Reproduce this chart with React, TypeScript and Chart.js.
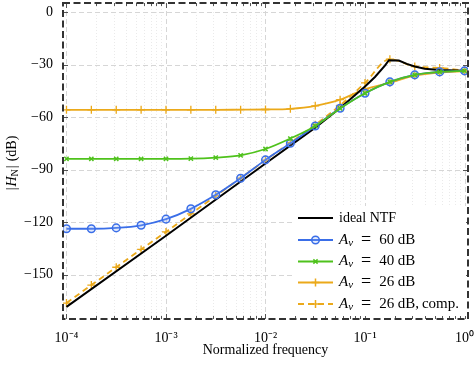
import React, { useEffect, useRef } from 'react';
import { Chart, registerables } from 'chart.js';

Chart.register(...registerables);

// ---- data ----
const freq = [1e-4, 1.778e-4, 3.162e-4, 5.623e-4, 1e-3, 1.778e-3, 3.162e-3, 5.623e-3, 1e-2, 1.778e-2, 3.162e-2, 5.623e-2, 1e-1, 0.1778, 0.3162, 0.5623, 1];
const av60 = [-123.8, -123.8, -123.3, -121.8, -118.3, -112.4, -104.4, -94.9, -84.4, -74.9, -65.0, -54.9, -46.3, -39.8, -35.8, -34.1, -33.5];
const av40 = [-83.8, -83.8, -83.8, -83.8, -83.8, -83.7, -83.1, -81.8, -78.2, -72.2, -65.0, -55.0, -46.3, -39.8, -35.8, -34.1, -33.5];
const av26 = [-55.8, -55.8, -55.8, -55.8, -55.8, -55.8, -55.8, -55.7, -55.6, -55.2, -53.5, -50.0, -44.0, -40.3, -36.2, -34.4, -33.7];
const av26comp = [-166.3, -156.0, -145.8, -135.6, -125.6, -115.3, -105.0, -94.8, -84.6, -74.5, -64.3, -53.2, -40.4, -26.8, -31.0, -31.8, -33.3];
const idealFreq = [1e-4, 1e-3, 1e-2, 0.03162, 0.05623, 0.1, 0.1259, 0.1585, 0.1738, 0.2188, 0.263, 0.3162, 0.398, 0.5623, 1];
const idealNtf = [-168.5, -127.8, -86.5, -66.0, -54.7, -42.5, -37.0, -30.5, -27.4, -27.6, -29.5, -31.0, -32.3, -33.0, -33.4];

const yTicks = [0, -30, -60, -90, -120, -150];
const yTickLabels = ['0', '\u221230', '\u221260', '\u221290', '\u2212120', '\u2212150'];
const xTicks = [1e-4, 1e-3, 1e-2, 1e-1, 1];
const xTickLabels = ['10\u207B\u2074', '10\u207B\u00B3', '10\u207B\u00B2', '10\u207B\u00B9', '10\u2070'];
const minorMultipliers = [2, 3, 4, 5, 6, 7, 8, 9];
const xMin = 9.226e-5;
const xMax = 1.084;
const yMin = -175.4;
const yMax = 5.3;

const legendLabels = ['ideal NTF', '60', '40', '26', '26comp'];

const BLUE = '#3a6ee8';
const GREEN = '#4fc21c';
const YELLOW = '#eba91a';
const FONT = '"Liberation Serif", "Times New Roman", serif';

type Seg = { t: string; f: string; dy?: number; gap?: number };

function drawRich(ctx: CanvasRenderingContext2D, segs: Seg[], x: number, y: number) {
  let cx = x;
  for (const s of segs) {
    if (s.gap) { cx += s.gap; continue; }
    ctx.font = s.f;
    ctx.fillText(s.t, cx, y + (s.dy || 0));
    cx += ctx.measureText(s.t).width;
  }
  return cx - x;
}

function avSegs(val: string, suffix: string): Seg[] {
  const segs: Seg[] = [
    { t: 'A', f: `italic 15px ${FONT}` },
    { t: 'v', f: `italic 11px ${FONT}`, dy: 3 },
    { t: '', f: '', gap: 8 },
    { t: '=', f: `18px ${FONT}` },
    { t: '', f: '', gap: 8 },
    { t: val, f: `15px ${FONT}` },
    { t: '', f: '', gap: 3.5 },
    { t: 'dB', f: `15px ${FONT}` },
  ];
  if (suffix) {
    segs.push({ t: ',', f: `15px ${FONT}` });
    segs.push({ t: '', f: '', gap: 3 });
    segs.push({ t: suffix, f: `15px ${FONT}` });
  }
  return segs;
}

function drawMarker(ctx: CanvasRenderingContext2D, style: string, x: number, y: number, r: number, color: string, fill: string) {
  ctx.save();
  ctx.strokeStyle = color;
  ctx.setLineDash([]);
  ctx.lineWidth = 1.5;
  ctx.beginPath();
  if (style === 'circle') {
    ctx.arc(x, y, r, 0, Math.PI * 2);
    ctx.fillStyle = fill;
    ctx.fill();
    ctx.stroke();
  } else if (style === 'cross') {
    ctx.moveTo(x - r, y); ctx.lineTo(x + r, y);
    ctx.moveTo(x, y - r); ctx.lineTo(x, y + r);
    ctx.stroke();
  } else if (style === 'crossRot') {
    const d = r * 0.7071;
    ctx.moveTo(x - d, y - d); ctx.lineTo(x + d, y + d);
    ctx.moveTo(x - d, y + d); ctx.lineTo(x + d, y - d);
    ctx.stroke();
  }
  ctx.restore();
}

const framePlugin = {
  id: 'frameGrid',
  beforeDatasetsDraw(chart: any) {
    const { ctx, chartArea: a, scales } = chart;
    const x = scales.x, y = scales.y;
    ctx.save();
    ctx.beginPath();
    ctx.rect(a.left, a.top, a.right - a.left, a.bottom - a.top);
    ctx.clip();
    ctx.strokeStyle = '#e4e4e4';
    ctx.lineWidth = 0.8;
    ctx.setLineDash([1, 2]);
    for (const d of xTicks) {
      for (const m of minorMultipliers) {
        const v = d * m;
        if (v > xMax) continue;
        const px = Math.round(x.getPixelForValue(v)) + 0.5;
        ctx.beginPath(); ctx.moveTo(px, a.top); ctx.lineTo(px, a.bottom); ctx.stroke();
      }
    }
    ctx.strokeStyle = '#d6d6d6';
    ctx.lineWidth = 1;
    ctx.setLineDash([5, 3]);
    for (const v of xTicks) {
      const px = Math.round(x.getPixelForValue(v)) + 0.5;
      ctx.beginPath(); ctx.moveTo(px, a.top); ctx.lineTo(px, a.bottom); ctx.stroke();
    }
    for (const v of yTicks) {
      const py = Math.round(y.getPixelForValue(v)) + 0.5;
      ctx.beginPath(); ctx.moveTo(a.left, py); ctx.lineTo(a.right, py); ctx.stroke();
    }
    ctx.restore();
  },
  afterDatasetsDraw(chart: any) {
    const { ctx, chartArea: a, scales } = chart;
    const x = scales.x, y = scales.y;
    ctx.save();
    ctx.strokeStyle = '#555';
    ctx.lineWidth = 1;
    ctx.setLineDash([]);
    const tickX = (px: number, len: number) => {
      ctx.beginPath(); ctx.moveTo(px, a.bottom); ctx.lineTo(px, a.bottom - len); ctx.stroke();
      ctx.beginPath(); ctx.moveTo(px, a.top); ctx.lineTo(px, a.top + len); ctx.stroke();
    };
    for (const d of xTicks) {
      tickX(Math.round(x.getPixelForValue(d)) + 0.5, 5);
      for (const m of minorMultipliers) {
        const v = d * m;
        if (v > xMax) continue;
        tickX(Math.round(x.getPixelForValue(v)) + 0.5, 3);
      }
    }
    for (const v of yTicks) {
      const py = Math.round(y.getPixelForValue(v)) + 0.5;
      ctx.beginPath(); ctx.moveTo(a.left, py); ctx.lineTo(a.left + 5, py); ctx.stroke();
      ctx.beginPath(); ctx.moveTo(a.right, py); ctx.lineTo(a.right - 5, py); ctx.stroke();
    }
    // legend
    const lx = 295, ly = 206, lw = 171, lh = 110;
    ctx.fillStyle = '#ffffff';
    ctx.fillRect(lx, ly, lw, lh);
    const ds = chart.data.datasets;
    const rowY = [218, 240, 261.5, 282.5, 304];
    ctx.textBaseline = 'middle';
    ctx.textAlign = 'left';
    legendLabels.forEach((lab, i) => {
      const d = ds[i];
      const yy = rowY[i];
      ctx.save();
      ctx.strokeStyle = d.borderColor;
      ctx.lineWidth = d.borderWidth;
      ctx.setLineDash(d.borderDash || []);
      ctx.beginPath(); ctx.moveTo(298, yy); ctx.lineTo(333, yy); ctx.stroke();
      ctx.restore();
      if (d.pointRadius > 0) drawMarker(ctx, d.pointStyle, 315.5, yy, d.pointRadius, d.borderColor, d.pointBackgroundColor || 'transparent');
      ctx.fillStyle = '#000';
      if (lab === 'ideal NTF') {
        ctx.font = `14px ${FONT}`;
        ctx.fillText(lab, 339, yy);
      } else if (lab === '26comp') {
        drawRich(ctx, avSegs('26', 'comp.'), 339, yy);
      } else {
        drawRich(ctx, avSegs(lab, ''), 339, yy);
      }
    });
    // frame
    ctx.strokeStyle = '#333';
    ctx.lineWidth = 2;
    ctx.setLineDash([7, 3.5]);
    ctx.strokeRect(a.left, a.top, a.right - a.left, a.bottom - a.top);
    ctx.restore();
  },
  afterDraw(chart: any) {
    const { ctx, chartArea: a } = chart;
    ctx.save();
    ctx.fillStyle = '#000';
    ctx.textBaseline = 'middle';
    ctx.textAlign = 'center';
    ctx.font = `14px ${FONT}`;
    ctx.fillText('Normalized frequency', (a.left + a.right) / 2, 350);
    ctx.translate(12, 163);
    ctx.rotate(-Math.PI / 2);
    ctx.textAlign = 'left';
    const segs: Seg[] = [
      { t: '|', f: `14px ${FONT}` },
      { t: '', f: '', gap: 1 },
      { t: 'H', f: `italic 14px ${FONT}` },
      { t: 'N', f: `10px ${FONT}`, dy: 3 },
      { t: '', f: '', gap: 1 },
      { t: '|', f: `14px ${FONT}` },
      { t: '', f: '', gap: 4 },
      { t: '(dB)', f: `14px ${FONT}` },
    ];
    let w = 0;
    for (const s of segs) {
      if (s.gap) { w += s.gap; continue; }
      ctx.font = s.f; w += ctx.measureText(s.t).width;
    }
    drawRich(ctx, segs, -w / 2, 0);
    ctx.restore();
  },
};

export default function App() {
  const ref = useRef<HTMLCanvasElement | null>(null);
  useEffect(() => {
    document.body.style.margin = '0';
    const canvas = ref.current;
    if (!canvas) return;
    const pts = (xs: number[], ys: number[]) => xs.map((f, i) => ({ x: f, y: ys[i] }));
    const chart = new Chart(canvas, {
      type: 'line',
      data: {
        datasets: [
          { label: 'ideal NTF', data: pts(idealFreq, idealNtf), borderColor: '#000', borderWidth: 2, pointRadius: 0, tension: 0, order: 2 } as any,
          { label: 'Av = 60 dB', data: pts(freq, av60), borderColor: BLUE, borderWidth: 1.8, pointStyle: 'circle', pointRadius: 3.8, pointBorderWidth: 1.5, pointBorderColor: BLUE, pointBackgroundColor: 'rgba(140,170,245,0.25)', cubicInterpolationMode: 'monotone', order: 1 },
          { label: 'Av = 40 dB', data: pts(freq, av40), borderColor: GREEN, borderWidth: 1.8, pointStyle: 'crossRot', pointRadius: 3, pointBorderWidth: 1.5, pointBorderColor: GREEN, cubicInterpolationMode: 'monotone', order: 0 },
          { label: 'Av = 26 dB', data: pts(freq, av26), borderColor: YELLOW, borderWidth: 1.8, pointStyle: 'cross', pointRadius: 4, pointBorderWidth: 1.3, pointBorderColor: YELLOW, cubicInterpolationMode: 'monotone', order: 4 },
          { label: 'Av = 26 dB, comp.', data: pts(freq, av26comp), borderColor: YELLOW, borderWidth: 1.8, borderDash: [6, 4], pointStyle: 'cross', pointRadius: 4, pointBorderWidth: 1.3, pointBorderColor: YELLOW, cubicInterpolationMode: 'monotone', order: 3 },
        ],
      },
      options: {
        animation: false,
        responsive: false,
        devicePixelRatio: 1,
        layout: { padding: { top: 3, right: 6, left: 0, bottom: 0 }, autoPadding: false } as any,
        plugins: { legend: { display: false }, tooltip: { enabled: false }, title: { display: false } },
        scales: {
          x: {
            type: 'logarithmic',
            min: xMin,
            max: xMax,
            grid: { display: false, drawTicks: false },
            border: { display: false },
            afterBuildTicks: (s: any) => { s.ticks = xTicks.map((v) => ({ value: v })); },
            afterFit: (s: any) => { s.height = 51; s.paddingLeft = 0; s.paddingRight = 0; s.paddingTop = 0; s.paddingBottom = 0; },
            ticks: {
              autoSkip: false,
              maxRotation: 0,
              padding: 11,
              color: '#000',
              font: { family: FONT, size: 14 },
              callback: (_v: any, i: number) => xTickLabels[i],
            },
          },
          y: {
            type: 'linear',
            min: yMin,
            max: yMax,
            grid: { display: false, drawTicks: false },
            border: { display: false },
            afterBuildTicks: (s: any) => { s.ticks = yTicks.map((v) => ({ value: v })); },
            afterFit: (s: any) => { s.width = 63; s.paddingLeft = 0; s.paddingRight = 0; s.paddingTop = 0; s.paddingBottom = 0; },
            ticks: {
              autoSkip: false,
              padding: 10,
              color: '#000',
              font: { family: FONT, size: 14 },
              callback: (_v: any, i: number) => yTickLabels[i],
            },
          },
        },
      },
      plugins: [framePlugin],
    } as any);
    return () => chart.destroy();
  }, []);
  return <canvas ref={ref} width={474} height={370} style={{ display: 'block' }} />;
}
